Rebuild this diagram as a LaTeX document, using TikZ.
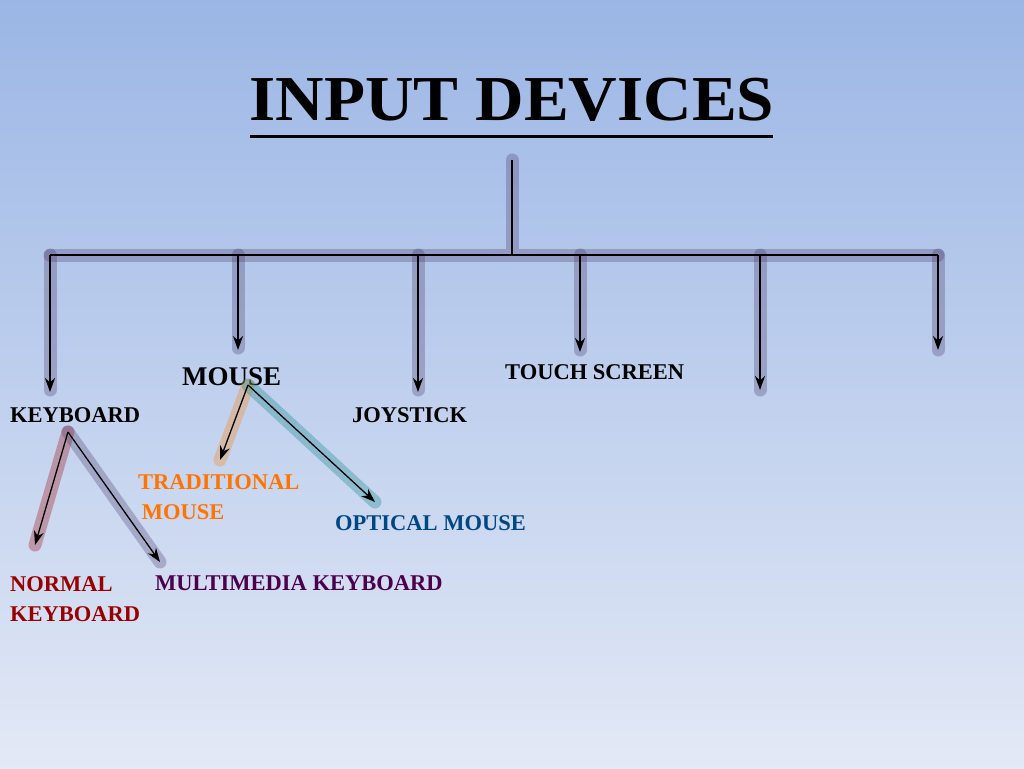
\documentclass[tikz,border=0pt]{standalone}
\usepackage{fontspec}
\setmainfont{Liberation Serif}
\usetikzlibrary{arrows.meta}
\definecolor{bgtop}{HTML}{9BB6E5}
\definecolor{bgbot}{HTML}{E3E9F6}
\definecolor{glowc}{HTML}{4A3A6A}
\begin{document}
\begin{tikzpicture}[x=1pt,y=-1pt,
  lbl/.style={anchor=west,inner sep=0,font=\bfseries\fontsize{22.5}{30}\selectfont},
  con/.style={line width=1.8pt,-{Stealth[length=14pt,width=10pt]}},
  glow/.style={line width=13pt,opacity=0.3,line cap=round}]
\shade[top color=bgtop, bottom color=bgbot] (0,0) rectangle (1024,768);
\useasboundingbox (0,0) rectangle (1024,768);
\node[font=\bfseries\fontsize{64}{70}\selectfont,inner sep=0,xscale=1.05] (title) at (512,100) {INPUT DEVICES};
\draw[line width=3pt] (250,136) -- (773,136);
\coordinate (top) at (512,160);
\coordinate (mid) at (512,255);
\coordinate (L) at (50,255);
\coordinate (R) at (938,255);
\foreach \x in {50,238,418,580,760,938}{\coordinate (b\x) at (\x,255);}
\node[lbl] (kb) at (10,415) {KEYBOARD};
\node[lbl,font=\bfseries\fontsize{27}{30}\selectfont] (mouse) at (182,377) {MOUSE};
\node[lbl] (joy) at (352,415) {JOYSTICK};
\node[lbl] (touch) at (505,372) {TOUCH SCREEN};
\coordinate (e760) at (760,390);
\coordinate (e938) at (938,350);
\node[lbl,text=red!60!black,align=left] (nk) at (10,599) {NORMAL\\KEYBOARD};
\node[lbl,text=violet!60!black] (mk) at (155,583) {MULTIMEDIA KEYBOARD};
\node[lbl,text=orange!90!red,align=left] (tm) at (138,497) {TRADITIONAL\\\,MOUSE};
\node[lbl,text=teal!70!blue!80!black] (om) at (335,523) {OPTICAL MOUSE};
\coordinate (kbs) at (68,432);
\coordinate (ms) at (248,385);
% glows
\draw[glow,glowc] (top) -- (mid) (L) -- (R);
\foreach \x/\y in {50/390,238/348,418/390,580/350,760/390,938/350}{\draw[glow,glowc] (\x,255) -- (\x,\y);}
\draw[glow,red!60!black] (kbs) -- (35,545);
\draw[glow,glowc] (kbs) -- (160,562);
\draw[glow,orange] (ms) -- (220,460);
\draw[glow,teal] (ms) -- (375,502);
% lines
\draw[line width=1.8pt] (top) -- (mid) (L) -- (R);
\draw[con] (b50) -- (50,392);
\draw[con] (b238) -- (238,350);
\draw[con] (b418) -- (418,392);
\draw[con] (b580) -- (580,352);
\draw[con] (b760) -- (e760);
\draw[con] (b938) -- (e938);
\draw[con,line width=1.3pt] (kbs) -- (35,545);
\draw[con,line width=1.3pt] (kbs) -- (160,562);
\draw[con,line width=1.3pt] (ms) -- (220,460);
\draw[con,line width=1.3pt] (ms) -- (375,502);
\end{tikzpicture}
\end{document}
